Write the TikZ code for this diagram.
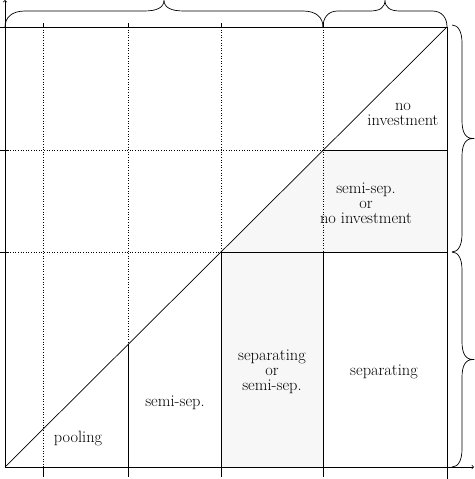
\documentclass[tikz,border=0pt]{standalone}
\newcommand\mybrace[7]{% x, y, rotation, length, w, flat, tip
\begin{scope}[shift={(#1,#2)},rotate=#3]
 \draw[solidline] (0,0) .. controls (0,{#6*0.6}) and ({#5*0.35},#6) .. (#5,#6)
   -- ({#4/2-#5},#6) .. controls ({#4/2-#5*0.35},#6) and ({#4/2},{#6+(#7-#6)*0.3}) .. ({#4/2},#7)
   .. controls ({#4/2},{#6+(#7-#6)*0.3}) and ({#4/2+#5*0.35},#6) .. ({#4/2+#5},#6)
   -- ({#4-#5},#6) .. controls ({#4-#5*0.35},#6) and (#4,{#6*0.6}) .. (#4,0);
\end{scope}}
\begin{document}
\begin{tikzpicture}[x=1pt,y=1pt,
  lbl/.style={align=center,font=\fontsize{16.4}{15}\selectfont,inner sep=0pt},
  grid/.style={dotted,line width=0.6pt},
  solidline/.style={line width=0.7pt},
  shade/.style={fill=black!3}]
\useasboundingbox (0,0) rectangle (474,479);
% key points
\coordinate (O) at (5,12);
\coordinate (TR) at (447,452);
\coordinate (D1) at (128,134.4);
\coordinate (D2) at (221,227);
\coordinate (D3) at (323,328.6);
% shaded regions
\fill[shade] (D2) -- (D3) -- (447,328.6) -- (447,227) -- cycle;
\fill[shade] (221,12) rectangle (323,227);
% dotted grid
\foreach \x in {43,128,221,323} \draw[grid] (\x,452) -- (\x,12);
\foreach \y in {227,328.6} \draw[grid] (5,\y) -- (447,\y);
% axes
\draw[solidline,->] (O) -- (474,12);
\draw[solidline,->] (O) -- (5,479);
% frame
\draw[solidline] (0,452) -- (TR) -- (447,0);
% ticks
\foreach \x in {43,128,221,323} {\draw[solidline] (\x,12) -- (\x,2); \draw[solidline] (\x,452) -- (\x,455.5);}
\foreach \y in {227,328.6} \draw[solidline] (0,\y) -- (8,\y);
% diagonal and region borders
\draw[solidline] (O) -- (TR);
\draw[solidline] (D1) -- (128,12);
\draw[solidline] (D2) -- (221,12);
\draw[solidline] (323,227) -- (323,12);
\draw[solidline] (D2) -- (447,227);
\draw[solidline] (D3) -- (447,328.6);
% braces
\mybrace{5}{452}{0}{318}{20}{16}{27}
\mybrace{323}{452}{0}{124}{15}{16}{27}
\mybrace{452}{454}{-90}{227}{18}{10}{21}
\mybrace{452}{227}{-90}{215}{18}{10}{21}
% labels
\node[lbl] (noinv) at (403,365) {no\\investment};
\node[lbl] (semino) at (366,276) {semi-sep.\\or\\no investment};
\node[lbl] (sepsemi) at (272,107) {separating\\or\\semi-sep.};
\node[lbl] (sep) at (384,107) {separating};
\node[lbl] (semi) at (175,76) {semi-sep.};
\node[lbl] (pool) at (78,41) {pooling};
\end{tikzpicture}
\end{document}
